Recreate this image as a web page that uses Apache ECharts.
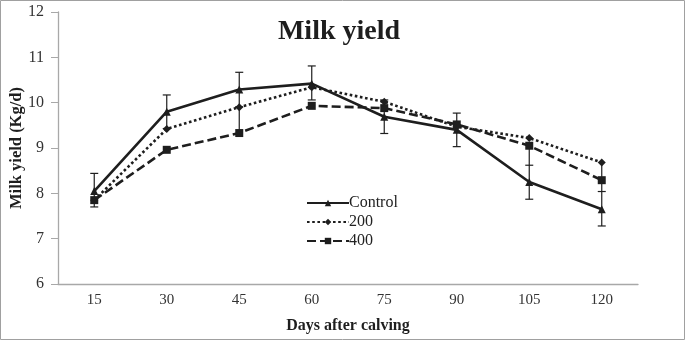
<!DOCTYPE html>
<html>
<head>
<meta charset="utf-8">
<script src="https://cdn.jsdelivr.net/npm/echarts@6/dist/echarts.min.js"></script>
<style>
  html, body { margin: 0; padding: 0; background: #fff; }
  #main { width: 685px; height: 340px; }
</style>
</head>
<body>
<div id="main"></div>
<script>
// days after calving
var days = ['15', '30', '45', '60', '75', '90', '105', '120'];
var control = [8.05, 9.80, 10.29, 10.42, 9.69, 9.40, 8.25, 7.65];
var dose200 = [7.85, 9.42, 9.90, 10.34, 10.02, 9.47, 9.22, 8.68];
var dose400 = [7.85, 8.96, 9.33, 9.93, 9.88, 9.52, 9.05, 8.29];
// error bars as drawn (vertical extent and cap positions)
var barLow = [7.70, 9.43, 9.32, 10.06, 9.32, 9.03, 7.87, 7.28];
var barHigh = [8.44, 10.17, 10.67, 10.81, 10.06, 9.77, 9.05, 8.68];
var capLow = [7.70, 9.43, 9.91, 10.06, 9.32, 9.03, 7.87, 7.28];
var capHigh = [8.44, 10.17, 10.67, 10.81, 10.06, 9.77, 8.62, 8.04];

var font = 'Liberation Serif';
var ink = '#1e1e1e';

var errData = [];
for (var i = 0; i < days.length; i++) {
  errData.push([i, barLow[i], barHigh[i], capLow[i], capHigh[i]]);
}

var chart = echarts.init(document.getElementById('main'), null, { renderer: 'canvas' });

var option = {
  animation: false,
  backgroundColor: '#fff',
  textStyle: { fontFamily: font },
  title: {
    text: 'Milk yield',
    left: 334,
    textAlign: 'center',
    top: 13,
    textStyle: { fontFamily: font, fontSize: 28, fontWeight: 'bold', color: ink }
  },
  legend: {
    orient: 'vertical',
    left: 301,
    top: 190,
    itemWidth: 42,
    itemHeight: 8,
    itemGap: 3,
    itemStyle: { color: ink },
    textStyle: { fontFamily: font, fontSize: 16, color: '#222', padding: [0, 0, 0, -5] },
    data: ['Control', '200', '400']
  },
  grid: { left: 58, right: 47, top: 12, bottom: 56, containLabel: false, outerBoundsMode: 'none' },
  xAxis: {
    type: 'category',
    data: days,
    boundaryGap: true,
    name: 'Days after calving',
    nameLocation: 'middle',
    nameGap: 34,
    nameMoveOverlap: false,
    nameTextStyle: { fontFamily: font, fontSize: 16, fontWeight: 'bold', color: ink },
    axisLine: { lineStyle: { color: '#a8a8a8', width: 1.3 } },
    axisTick: { show: false },
    axisLabel: { fontFamily: font, fontSize: 15, color: '#333', margin: 9 }
  },
  yAxis: {
    type: 'value',
    min: 6,
    max: 12,
    interval: 1,
    name: 'Milk yield (Kg/d)',
    nameLocation: 'middle',
    nameGap: 33,
    nameMoveOverlap: false,
    nameTextStyle: { fontFamily: font, fontSize: 16.5, fontWeight: 'bold', color: ink },
    axisLine: { show: true, lineStyle: { color: '#a8a8a8', width: 1.3 } },
    axisTick: { show: true, length: 7, lineStyle: { color: '#a8a8a8' } },
    axisLabel: { fontFamily: font, fontSize: 16, color: '#333', margin: 14 },
    splitLine: { show: false }
  },
  graphic: [{
    type: 'rect',
    shape: { x: 0.5, y: 0.5, width: 684, height: 339 },
    style: { fill: null, stroke: '#a0a0a0', lineWidth: 1 },
    silent: true
  }],
  series: [
    {
      name: 'errors',
      type: 'custom',
      z: 1,
      data: errData,
      renderItem: function (params, api) {
        var x = api.coord([api.value(0), 0])[0];
        var yLo = api.coord([0, api.value(1)])[1];
        var yHi = api.coord([0, api.value(2)])[1];
        var cLo = api.coord([0, api.value(3)])[1];
        var cHi = api.coord([0, api.value(4)])[1];
        var st = { stroke: ink, lineWidth: 1.2 };
        return {
          type: 'group',
          children: [
            { type: 'line', shape: { x1: x, y1: yLo, x2: x, y2: yHi }, style: st },
            { type: 'line', shape: { x1: x - 4, y1: cLo, x2: x + 4, y2: cLo }, style: st },
            { type: 'line', shape: { x1: x - 4, y1: cHi, x2: x + 4, y2: cHi }, style: st }
          ]
        };
      }
    },
    {
      name: 'Control',
      type: 'line',
      z: 3,
      data: control,
      symbol: 'triangle',
      symbolSize: 8,
      itemStyle: { color: ink },
      lineStyle: { color: ink, width: 2.6, type: 'solid' }
    },
    {
      name: '200',
      type: 'line',
      z: 3,
      data: dose200,
      symbol: 'diamond',
      symbolSize: 8,
      itemStyle: { color: ink },
      lineStyle: { color: ink, width: 2.6, type: [2.6, 2.6] }
    },
    {
      name: '400',
      type: 'line',
      z: 3,
      data: dose400,
      symbol: 'rect',
      symbolSize: 8,
      itemStyle: { color: ink },
      lineStyle: { color: ink, width: 2.6, type: [9, 4] }
    }
  ]
};

chart.setOption(option);
</script>
</body>
</html>
